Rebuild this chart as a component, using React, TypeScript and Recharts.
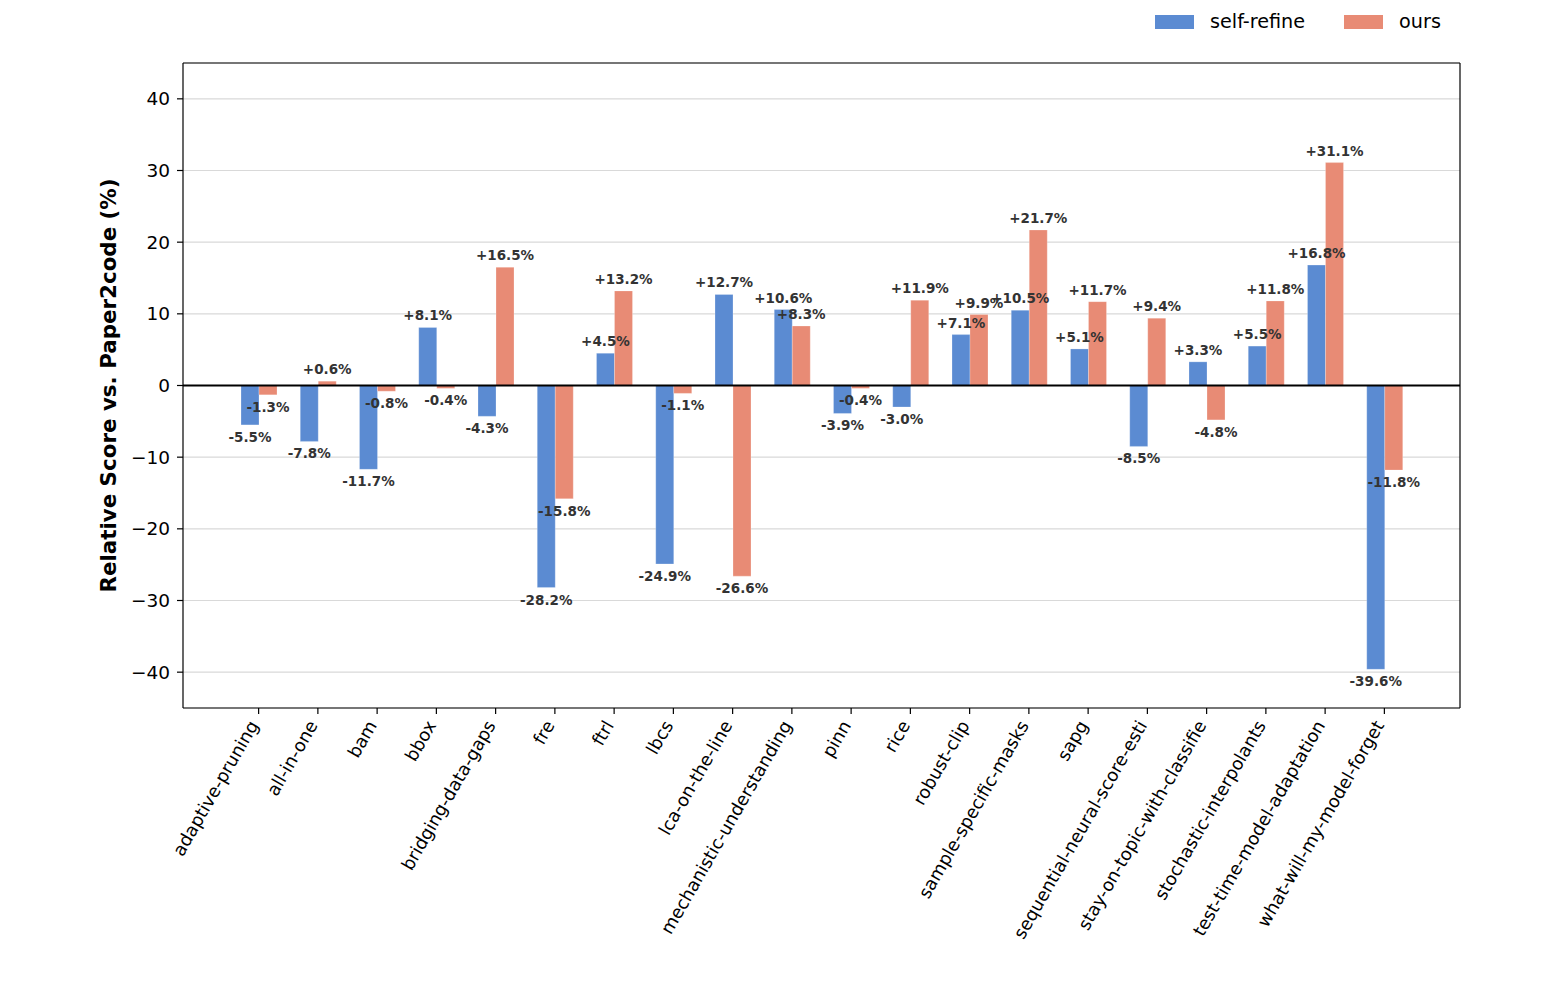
import { BarChart, Bar, XAxis, YAxis, CartesianGrid, ReferenceLine, LabelList } from 'recharts';

const categories = [
    'adaptive-pruning', 'all-in-one', 'bam', 'bbox', 'bridging-data-gaps', 'fre', 'ftrl', 'lbcs',
    'lca-on-the-line', 'mechanistic-understanding', 'pinn', 'rice', 'robust-clip', 'sample-specific-masks',
    'sapg', 'sequential-neural-score-esti', 'stay-on-topic-with-classifie', 'stochastic-interpolants',
    'test-time-model-adaptation', 'what-will-my-model-forget',
];

const selfRefine = [-5.5, -7.8, -11.7, 8.1, -4.3, -28.2, 4.5, -24.9, 12.7, 10.6, -3.9, -3.0, 7.1, 10.5, 5.1, -8.5, 3.3, 5.5, 16.8, -39.6];
const ours = [-1.3, 0.6, -0.8, -0.4, 16.5, -15.8, 13.2, -1.1, -26.6, 8.3, -0.4, 11.9, 9.9, 21.7, 11.7, 9.4, -4.8, 11.8, 31.1, -11.8];

const seriesNames = ['self-refine', 'ours'];
const yTicks = [-40, -30, -20, -10, 0, 10, 20, 30, 40];

const BLUE = '#5B8BD2';
const ORANGE = '#E88B75';
const FONT = '"DejaVu Sans", sans-serif';

const data = categories.map((name, i) => ({ name, selfRefine: selfRefine[i], ours: ours[i] }));

// value label above positive bars, below negative ones
const BarValueLabel = (props: any) => {
    const { x, y, width, height, value } = props;
    const v = Number(value);
    const top = Math.min(y, y + height);
    const bottom = Math.max(y, y + height);
    const ty = v >= 0 ? top - 7 : bottom + 17;
    return (
        <text x={x + width / 2} y={ty} textAnchor="middle" fontSize={13.5} fontWeight="bold" fill="#333" fontFamily={FONT}>
            {(v >= 0 ? '+' : '') + v.toFixed(1) + '%'}
        </text>
    );
};

const RotatedTick = (props: any) => {
    const { x, y, payload } = props;
    return (
        <g transform={`translate(${x - 5},${y + 6}) rotate(-60)`}>
            <text x={0} y={0} dy="0.35em" textAnchor="end" fontSize={17.8} fill="#000" fontFamily={FONT}>
                {payload.value}
            </text>
        </g>
    );
};

const YLabel = (props: any) => {
    const { viewBox } = props;
    const cy = viewBox.y + viewBox.height / 2;
    return (
        <text transform={`translate(${viewBox.x - 15},${cy}) rotate(-90)`} dy="0.35em" textAnchor="middle" fontSize={21.4} fontWeight="bold" fill="#000" fontFamily={FONT}>
            Relative Score vs. Paper2code (%)
        </text>
    );
};

export default function App() {
    const colors = [BLUE, ORANGE];
    return (
        <div style={{ position: 'absolute', left: 0, top: 0, width: 1557, height: 989, background: '#fff', fontFamily: FONT }}>
            <div style={{ position: 'absolute', left: 1155, top: 10, display: 'flex', alignItems: 'center' }}>
                {seriesNames.map((s, i) => (
                    <div key={s} style={{ display: 'flex', alignItems: 'center', marginRight: 39 }}>
                        <span style={{ display: 'inline-block', width: 39, height: 14, background: colors[i], marginRight: 16 }} />
                        <span style={{ fontSize: 19.2, color: '#000' }}>{s}</span>
                    </div>
                ))}
            </div>
            <BarChart
                width={1557}
                height={989}
                data={data}
                margin={{ top: 63, right: 96, left: 123, bottom: 251 }}
                barGap={0}
            >
                <CartesianGrid horizontal vertical={false} stroke="#d9d9d9" strokeWidth={1.2} />
                <XAxis
                    dataKey="name"
                    type="category"
                    height={30}
                    padding={{ left: 46, right: 46 }}
                    interval={0}
                    tick={<RotatedTick />}
                    tickSize={6}
                    tickLine={{ stroke: '#000', strokeWidth: 1.2 }}
                    axisLine={{ stroke: '#000', strokeWidth: 1.2 }}
                />
                <YAxis
                    type="number"
                    domain={[-45, 45]}
                    ticks={yTicks}
                    width={60}
                    interval={0}
                    tickSize={6}
                    tickMargin={7}
                    tickFormatter={(v: number) => (v < 0 ? `\u2212${Math.abs(v)}` : `${v}`)}
                    tick={{ fill: '#000', fontSize: 18.5, fontFamily: FONT }}
                    tickLine={{ stroke: '#000', strokeWidth: 1.2 }}
                    axisLine={{ stroke: '#000', strokeWidth: 1.2 }}
                    label={<YLabel />}
                />
                <YAxis
                    yAxisId="right"
                    orientation="right"
                    type="number"
                    domain={[-45, 45]}
                    width={1}
                    tick={false}
                    tickLine={false}
                    axisLine={{ stroke: '#000', strokeWidth: 1.2 }}
                />
                <ReferenceLine y={45} stroke="#000" strokeWidth={1.2} />
                <ReferenceLine y={0} stroke="#000" strokeWidth={1.8} />
                <Bar dataKey="selfRefine" name={seriesNames[0]} fill={BLUE} barSize={18} isAnimationActive={false} stroke="#fff" strokeOpacity={0.4} strokeWidth={0.6}>
                    <LabelList dataKey="selfRefine" content={<BarValueLabel />} />
                </Bar>
                <Bar dataKey="ours" name={seriesNames[1]} fill={ORANGE} barSize={18} isAnimationActive={false} stroke="#fff" strokeOpacity={0.4} strokeWidth={0.6}>
                    <LabelList dataKey="ours" content={<BarValueLabel />} />
                </Bar>
            </BarChart>
        </div>
    );
}
